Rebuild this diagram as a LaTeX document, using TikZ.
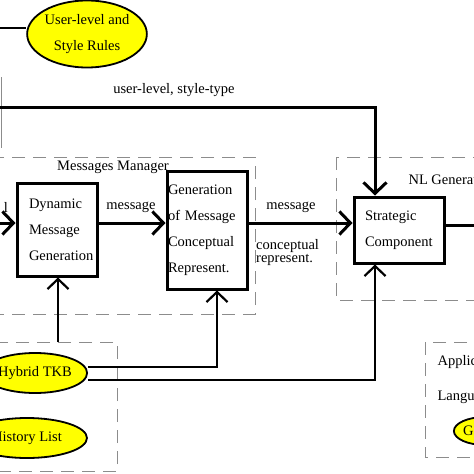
\documentclass[tikz,border=0pt]{standalone}
\usepackage{fontspec}
\setmainfont{Liberation Serif}
\usetikzlibrary{arrows.meta,shapes.geometric}
\definecolor{kbyellow}{RGB}{255,255,0}
\definecolor{mgrgray}{RGB}{140,140,140}

\begin{document}
\begin{tikzpicture}[x=1pt, y=-1pt,
  font=\fontsize{14.5}{26}\selectfont,
  procbox/.style={draw, line width=3pt, align=left, inner ysep=0pt},
  kbell/.style={ellipse, draw, fill=kbyellow, line width=1.8pt, inner sep=0pt, align=center},
  mgrframe/.style={mgrgray, line width=0.9pt, dash pattern=on 13pt off 8pt},
  flow/.style={line width=3pt, -{Straight Barb[length=11pt,width=23pt]}},
  link/.style={line width=2.2pt, -{Straight Barb[length=10pt,width=21pt]}}]
  \useasboundingbox (0,0) rectangle (474,474);
  \clip (0,0) rectangle (474,474);

  % Dashed module frames
  \draw[mgrframe] (-20,157) rectangle (255,314);
  \draw[mgrframe] (336,157) rectangle (520,300);
  \draw[mgrframe] (-20,342) rectangle (117,471);
  \draw[mgrframe] (425,342) rectangle (520,457);
  \draw[mgrgray, line width=0.8pt] (1,77) -- (1,148);

  % Frame labels
  \node (mmlabel) at (113,167) {Messages Manager};
  \node[anchor=west] (nllabel) at (405,180) {NL Generator};
  \node[anchor=west, align=left, font=\fontsize{14.5}{35}\selectfont] (applabel) at (434,380) {Application\\Language};

  % Processing boxes
  \node[procbox, minimum width=80pt, minimum height=93pt, text width=56pt, inner xsep=12pt] (dmg) at (57,229.5) {Dynamic\\Message\\Generation};
  \node[procbox, minimum width=80pt, minimum height=118pt, text width=78pt, inner xsep=1pt] (gen) at (207,230) {Generation\\of Message\\Conceptual\\Represent.};
  \node[procbox, minimum width=90pt, minimum height=66pt, text width=68pt, inner xsep=11pt] (sc) at (399,230) {Strategic\\Component};

  % Knowledge sources
  \node[kbell, minimum width=118pt, minimum height=67pt] (ur) at (87,34) {User-level and\\Style Rules};
  \node[kbell, minimum width=98pt, minimum height=40pt] (tkb) at (35,373) {Hybrid TKB};
  \node[kbell, minimum width=120pt, minimum height=40pt] (hist) at (27,438) {History List};
  \node[kbell, minimum height=28pt] (gr) at (485,431) {\makebox[44pt][l]{G}};

  % Flow labels
  \node[anchor=east, inner sep=0pt] (lcut) at (8,207) {l};
  \node (m1) at (131,207) {message};
  \node (m2) at (291,207) {message};
  \node[anchor=north west, align=left, inner sep=0pt, font=\fontsize{14.5}{13.5}\selectfont] (cr) at (256,239) {conceptual\\represent.};
  \node (ulabel) at (174,90) {user-level, style-type};

  % Main flow
  \coordinate (ml) at (-5,223);
  \draw[flow] (ml) -- (ml -| dmg.west);
  \draw[flow] (dmg.east |- ml) -- (gen.west |- ml);
  \draw[flow] (gen.east |- ml) -- (sc.west |- ml);
  \coordinate (scout) at (480,225);
  \draw[line width=3pt] (sc.east |- scout) -- (scout);
  \coordinate (utop) at (-5,107);
  \draw[flow] (utop) -| ([xshift=-24pt]sc.north);
  \coordinate (uleft) at (-5,28);
  \draw[line width=2pt] (uleft) -- (uleft -| ur.west);

  % Knowledge links
  \coordinate (kbtop) at (58,342);
  \draw[link] (kbtop) -- (kbtop |- dmg.south);
  \draw[link] ([yshift=6pt]tkb.east) -| ([xshift=10pt]gen.south);
  \draw[link] ([yshift=-7pt]tkb.east) -| ([xshift=-24pt]sc.south);
\end{tikzpicture}
\end{document}
